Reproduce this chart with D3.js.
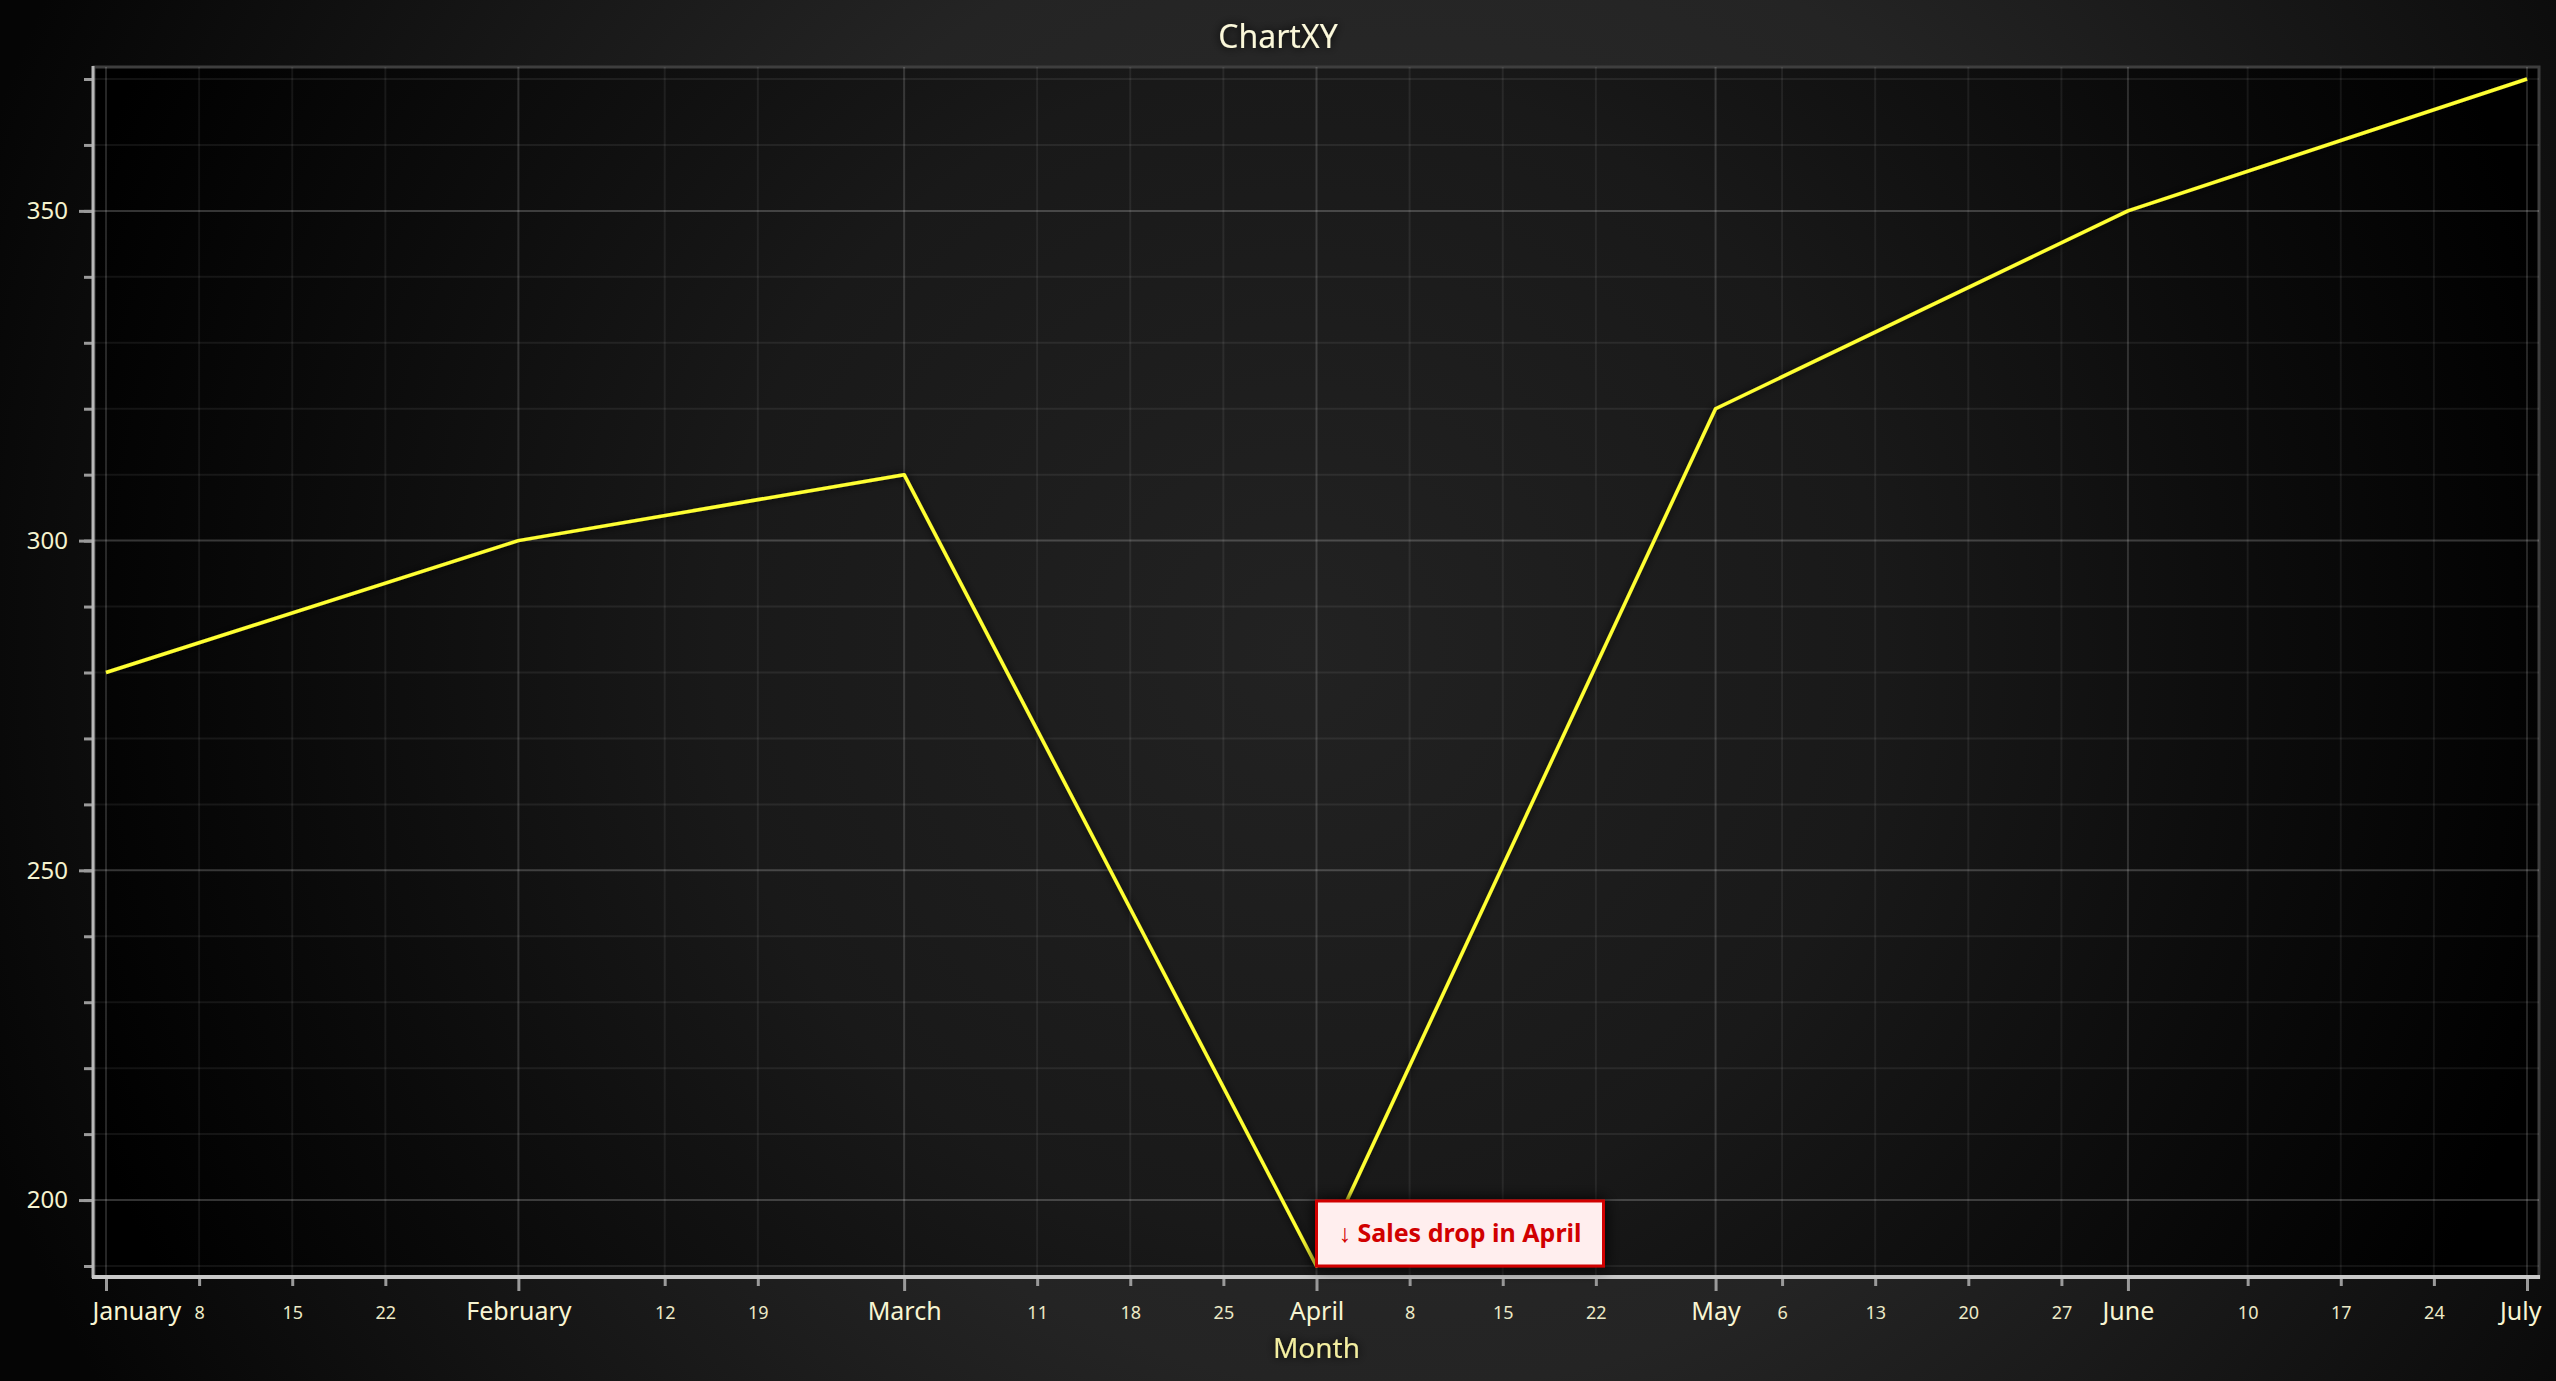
<!DOCTYPE html>
<html>
<head>
<meta charset="utf-8">
<script src="https://cdn.jsdelivr.net/npm/d3@7"></script>
<style>
  html, body { margin:0; padding:0; background:#000; overflow:hidden; }
  svg text { font-family: "Noto Sans", "Open Sans", sans-serif; }
</style>
</head>
<body>
<div id="chart"></div>
<script>
// data
var months = ["January","February","March","April","May","June","July"];
var monthStarts = ["2024-01-01","2024-02-01","2024-03-01","2024-04-01","2024-05-01","2024-06-01","2024-07-01"];
var sales = [280, 300, 310, 190, 320, 350, 370];
var yMajorTicks = [200, 250, 300, 350];
var yMinorTicks = [190, 200, 210, 220, 230, 240, 250, 260, 270, 280, 290, 300, 310, 320, 330, 340, 350, 360, 370];
var noteText = "\u2193 Sales drop in April";

var W = 2556, H = 1381;
var parse = d3.timeParse("%Y-%m-%d");
var dates = monthStarts.map(parse);

var plot = {left: 94, right: 2539, top: 67, bottom: 1277};
var pad = 12;

var svg = d3.select("#chart").append("svg")
    .attr("width", W).attr("height", H);

var defs = svg.append("defs");
var bg = defs.append("radialGradient").attr("id","bg")
    .attr("gradientUnits","userSpaceOnUse")
    .attr("cx",1400).attr("cy",640).attr("r",1500);
bg.append("stop").attr("offset","0").attr("stop-color","#2e2e2e");
bg.append("stop").attr("offset","0.5").attr("stop-color","#242424");
bg.append("stop").attr("offset","1").attr("stop-color","#050505");

var pbg = defs.append("radialGradient").attr("id","pbg")
    .attr("gradientUnits","userSpaceOnUse")
    .attr("cx",1300).attr("cy",650).attr("r",1300);
pbg.append("stop").attr("offset","0").attr("stop-color","#222222");
pbg.append("stop").attr("offset","0.45").attr("stop-color","#191919");
pbg.append("stop").attr("offset","1").attr("stop-color","#000000");

var glow = defs.append("filter").attr("id","glow")
    .attr("x","-20%").attr("y","-20%").attr("width","140%").attr("height","140%");
glow.append("feDropShadow").attr("dx",0).attr("dy",0).attr("stdDeviation",4)
    .attr("flood-color","#000").attr("flood-opacity",0.9);

var tglow = defs.append("filter").attr("id","tglow")
    .attr("x","-20%").attr("y","-40%").attr("width","140%").attr("height","180%");
tglow.append("feDropShadow").attr("dx",0).attr("dy",0).attr("stdDeviation",5)
    .attr("flood-color","#000").attr("flood-opacity",1);

var bshadow = defs.append("filter").attr("id","bshadow")
    .attr("x","-20%").attr("y","-40%").attr("width","140%").attr("height","180%");
bshadow.append("feDropShadow").attr("dx",0).attr("dy",0).attr("stdDeviation",8)
    .attr("flood-color","#000").attr("flood-opacity",1);

svg.append("rect").attr("width",W).attr("height",H).attr("fill","url(#bg)");
svg.append("rect")
    .attr("x",plot.left).attr("y",plot.top)
    .attr("width",plot.right-plot.left).attr("height",plot.bottom-plot.top)
    .attr("fill","url(#pbg)")
    .attr("stroke","#3e3e3e").attr("stroke-width",3);

// scales
var x = d3.scaleTime()
    .domain([dates[0], dates[dates.length-1]])
    .range([plot.left+pad, plot.right-pad]);
var y = d3.scaleLinear()
    .domain([d3.min(sales), d3.max(sales)])
    .range([plot.bottom-11, plot.top+12]);

// week ticks (Mondays), skipped near month labels
var weeks = d3.timeMonday.range(dates[0], dates[dates.length-1]).filter(function(d){
  return dates.every(function(m){ return Math.abs(d - m) >= 5*864e5; });
});

// grid
var grid = svg.append("g");
grid.selectAll(".hmin").data(yMinorTicks).enter().append("line")
    .attr("x1",plot.left).attr("x2",plot.right)
    .attr("y1",function(d){return y(d);}).attr("y2",function(d){return y(d);})
    .attr("stroke","rgba(255,255,255,0.07)").attr("stroke-width",2);
grid.selectAll(".hmaj").data(yMajorTicks).enter().append("line")
    .attr("x1",plot.left).attr("x2",plot.right)
    .attr("y1",function(d){return y(d);}).attr("y2",function(d){return y(d);})
    .attr("stroke","rgba(255,255,255,0.14)").attr("stroke-width",2);
grid.selectAll(".vmin").data(weeks).enter().append("line")
    .attr("y1",plot.top).attr("y2",plot.bottom)
    .attr("x1",function(d){return x(d);}).attr("x2",function(d){return x(d);})
    .attr("stroke","rgba(255,255,255,0.07)").attr("stroke-width",2);
grid.selectAll(".vmaj").data(dates).enter().append("line")
    .attr("y1",plot.top).attr("y2",plot.bottom)
    .attr("x1",function(d){return x(d);}).attr("x2",function(d){return x(d);})
    .attr("stroke","rgba(255,255,255,0.15)").attr("stroke-width",2);

// y axis
var yMinorAxis = svg.append("g").attr("transform","translate("+(plot.left-1)+",0)")
    .call(d3.axisLeft(y).tickValues(yMinorTicks).tickSize(9).tickFormat(""));
var yAxis = svg.append("g").attr("transform","translate("+(plot.left-1)+",0)")
    .call(d3.axisLeft(y).tickValues(yMajorTicks).tickSize(14).tickPadding(11));
[yMinorAxis, yAxis].forEach(function(g){
  g.select(".domain").remove();
  g.selectAll(".tick line").attr("stroke","#9a9a9a").attr("stroke-width",3);
});
yAxis.selectAll("text").attr("fill","#f6f3cf").attr("font-size",24);
svg.append("line")
    .attr("x1",plot.left-1).attr("x2",plot.left-1)
    .attr("y1",plot.top-1).attr("y2",plot.bottom+1)
    .attr("stroke","#b8b8b8").attr("stroke-width",3);

// x axis
var xWeekAxis = svg.append("g").attr("transform","translate(0,"+plot.bottom+")")
    .call(d3.axisBottom(x).tickValues(weeks).tickSize(9).tickPadding(20).tickFormat(d3.timeFormat("%-d")));
var xAxis = svg.append("g").attr("transform","translate(0,"+plot.bottom+")")
    .call(d3.axisBottom(x).tickValues(dates).tickSize(14).tickPadding(11)
      .tickFormat(function(d,i){ return months[i]; }));
[xWeekAxis, xAxis].forEach(function(g){
  g.select(".domain").remove();
  g.selectAll(".tick line").attr("stroke","#9a9a9a").attr("stroke-width",3);
});
xWeekAxis.selectAll("text").attr("fill","#ece9c6").attr("font-size",18);
xAxis.selectAll("text").attr("fill","#f8f5d2").attr("font-size",25);
// keep end labels inside the plot width
xAxis.selectAll(".tick text").each(function(d,i){
  var t = d3.select(this);
  if (i === 0) t.attr("text-anchor","start").attr("x", plot.left - x(d) - 2);
  if (i === dates.length-1) t.attr("text-anchor","end").attr("x", plot.right - x(d) + 2);
});
svg.append("line")
    .attr("x1",plot.left-2).attr("x2",plot.right+1)
    .attr("y1",plot.bottom).attr("y2",plot.bottom)
    .attr("stroke","#c8c8c8").attr("stroke-width",4);

// line
var line = d3.line()
    .x(function(d,i){ return x(dates[i]); })
    .y(function(d){ return y(d); });
svg.append("path").datum(sales)
    .attr("d", line)
    .attr("fill","none")
    .attr("stroke","#ffff33")
    .attr("stroke-width",3.5)
    .attr("stroke-linejoin","round")
    .attr("filter","url(#glow)");

// note on the April low
var low = d3.minIndex(sales);
var note = svg.append("g")
    .attr("transform","translate("+x(dates[low])+","+y(sales[low])+")");
note.append("rect")
    .attr("x",0).attr("y",-65).attr("width",287).attr("height",65)
    .attr("fill","#ffeeee").attr("stroke","#d10000").attr("stroke-width",3)
    .attr("filter","url(#bshadow)");
note.append("text")
    .attr("x",143.5).attr("y",-32.5).attr("dy","0.35em")
    .attr("text-anchor","middle")
    .attr("font-size",25).attr("font-weight","bold")
    .attr("fill","#d10000")
    .text(noteText);

// titles
svg.append("text")
    .attr("x",W/2).attr("y",48)
    .attr("text-anchor","middle")
    .attr("font-size",32)
    .attr("fill","#fbf8da")
    .attr("filter","url(#tglow)")
    .text("ChartXY");
svg.append("text")
    .attr("x",(plot.left+plot.right)/2).attr("y",1358)
    .attr("text-anchor","middle")
    .attr("font-size",28)
    .attr("fill","#f3eea0")
    .attr("filter","url(#tglow)")
    .text("Month");
</script>
</body>
</html>
